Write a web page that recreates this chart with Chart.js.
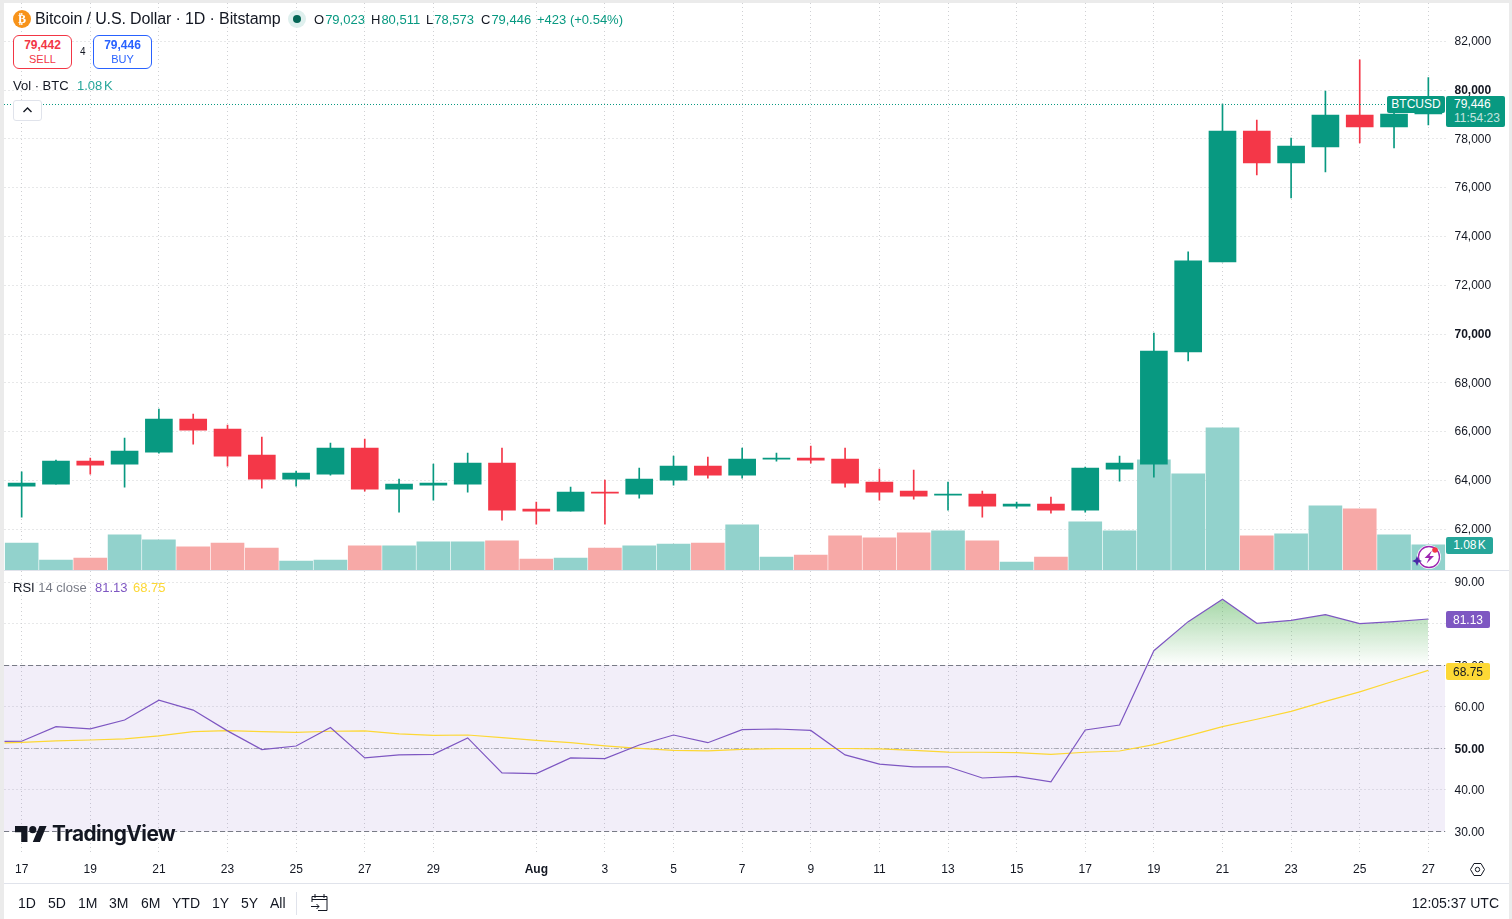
<!DOCTYPE html>
<html lang="en">
<head>
<meta charset="utf-8">
<title>BTCUSD</title>
<script src="https://cdn.jsdelivr.net/npm/chart.js@4"></script>
<style>
html,body{margin:0;padding:0;width:1512px;height:919px;overflow:hidden;background:#ebebeb;font-family:"Liberation Sans",Arial,sans-serif;color:#131722}
#panel{position:absolute;left:4px;top:3px;width:1505px;height:916px;background:#fff}
canvas{position:absolute;left:0}
#priceCanvas{top:0}
#rsiCanvas{top:571px}
.t{position:absolute;white-space:nowrap;line-height:1}
.tag{position:absolute;color:#fff;font-size:12px;text-align:center;box-sizing:border-box;border-radius:2px}
.hline{position:absolute;background:#e0e3eb;height:1px}
.btn{position:absolute;box-sizing:border-box;background:#fff;border-radius:6px;border:1px solid;text-align:center;width:59px;height:34px}
.btn b{display:block;font-size:12px;margin-top:3px;line-height:13px}
.btn span{display:block;font-size:11px;line-height:13px;margin-top:1px}
svg{position:absolute}
</style>
</head>
<body>
<div id="panel"></div>
<canvas id="priceCanvas" width="1512" height="570"></canvas>
<canvas id="rsiCanvas" width="1512" height="312"></canvas>

<div class="hline" style="left:4px;top:570px;width:1505px"></div>
<div class="hline" style="left:4px;top:883px;width:1505px"></div>

<svg style="left:13px;top:10px" width="18" height="18" viewBox="0 0 18 18"><circle cx="9" cy="9" r="9" fill="#f7931a"/><text x="9" y="13" font-size="12" font-weight="700" text-anchor="middle" fill="#fff" font-family="DejaVu Sans">₿</text></svg>
<div class="t" style="left:35px;top:11px;font-size:16px;letter-spacing:-.12px" id="title">Bitcoin / U.S. Dollar · 1D · Bitstamp</div>
<svg style="left:288px;top:10px" width="18" height="18" viewBox="0 0 18 18"><circle cx="9" cy="9" r="9" fill="#dff0ee"/><circle cx="9" cy="9" r="4" fill="#056656"/></svg>
<div class="t" style="left:314px;top:13px;font-size:13px">O<span style="color:#089981;margin-left:1px">79,023</span></div>
<div class="t" style="left:371px;top:13px;font-size:13px">H<span style="color:#089981;margin-left:1px">80,511</span></div>
<div class="t" style="left:426px;top:13px;font-size:13px">L<span style="color:#089981;margin-left:1px">78,573</span></div>
<div class="t" style="left:481px;top:13px;font-size:13px">C<span style="color:#089981;margin-left:1px">79,446</span></div>
<div class="t" style="left:537px;top:13px;font-size:13px;color:#089981">+423 (+0.54%)</div>

<div class="btn" style="left:13px;top:35px;border-color:#f23645;color:#f23645"><b>79,442</b><span>SELL</span></div>
<div class="t" style="left:80px;top:47px;font-size:10px">4</div>
<div class="btn" style="left:93px;top:35px;border-color:#2962ff;color:#2962ff"><b>79,446</b><span>BUY</span></div>

<div class="t" style="left:13px;top:79px;font-size:13px">Vol · BTC</div>
<div class="t" style="left:77px;top:79px;font-size:13px;color:#26a69a;word-spacing:-2px">1.08 K</div>
<div style="position:absolute;left:13px;top:100px;width:29px;height:21px;box-sizing:border-box;background:#fff;border:1px solid #e0e3eb;border-radius:3px"></div>
<svg style="left:22px;top:106px" width="11" height="8" viewBox="0 0 11 8"><path d="M1.5 6 L5.5 2 L9.5 6" fill="none" stroke="#131722" stroke-width="1.4"/></svg>

<div class="t" style="left:13px;top:581px;font-size:13px">RSI <span style="color:#787b86">14 close</span></div>
<div class="t" style="left:95px;top:581px;font-size:13px;color:#7e57c2">81.13</div>
<div class="t" style="left:133px;top:581px;font-size:13px;color:#fdd835">68.75</div>

<div class="tag" style="left:1387px;top:96px;width:58px;height:17px;line-height:17px;background:#089981">BTCUSD</div>
<div class="tag" style="left:1446px;top:96px;width:59px;height:31px;background:#089981;text-align:left;padding-left:8px;line-height:14px;padding-top:1px">79,446<br><span style="opacity:.75">11:54:23</span></div>
<div class="tag" style="left:1446px;top:537px;width:47px;height:17px;line-height:17px;background:#26a69a;word-spacing:-2px">1.08 K</div>
<div class="tag" style="left:1446px;top:611px;width:44px;height:17px;line-height:18px;background:#7e57c2">81.13</div>
<div class="tag" style="left:1446px;top:663px;width:44px;height:17px;line-height:18px;background:#fdd835;color:#131722">68.75</div>

<svg style="left:1412px;top:544px" width="30" height="26" viewBox="0 0 30 26"><circle cx="17" cy="13" r="12" fill="#fff"/><circle cx="17" cy="13" r="10.5" fill="#fff" stroke="#9c27b0" stroke-width="1.3"/><path d="M20 6.5 L12.5 14 L17 14 L14.5 19.5 L22 12 L17.5 12 Z" fill="#9c27b0"/><circle cx="23" cy="6" r="2.8" fill="#f23645"/><path d="M5 12 L6.5 15.5 L10 17 L6.5 18.5 L5 22 L3.5 18.5 L0 17 L3.5 15.5 Z" fill="#4a2aa8"/></svg>

<svg style="left:15px;top:826px" width="32" height="18" viewBox="0 0 36 20"><path d="M14 18H7V7H0V0h14v18zM28 18h-8L27.5 0h8L28 18z" fill="#131722"/><circle cx="20" cy="4" r="4" fill="#131722"/></svg>
<div class="t" style="left:52px;top:824px;font-family:Inter,sans-serif;font-size:20.8px;font-weight:700;letter-spacing:-.5px;color:#131722;text-shadow:0 0 2px #fff">TradingView</div>

<svg style="left:1469px;top:861px" width="17" height="17" viewBox="0 0 17 17"><path d="M5 2.5h7l3.5 6-3.5 6H5l-3.5-6z" fill="none" stroke="#131722" stroke-width="1"/><circle cx="8.5" cy="8.5" r="2.2" fill="none" stroke="#131722" stroke-width="1"/></svg>

<div class="t" style="left:18px;top:896px;font-size:14px">1D</div>
<div class="t" style="left:48px;top:896px;font-size:14px">5D</div>
<div class="t" style="left:78px;top:896px;font-size:14px">1M</div>
<div class="t" style="left:109px;top:896px;font-size:14px">3M</div>
<div class="t" style="left:141px;top:896px;font-size:14px">6M</div>
<div class="t" style="left:172px;top:896px;font-size:14px">YTD</div>
<div class="t" style="left:212px;top:896px;font-size:14px">1Y</div>
<div class="t" style="left:241px;top:896px;font-size:14px">5Y</div>
<div class="t" style="left:270px;top:896px;font-size:14px">All</div>
<div style="position:absolute;left:296px;top:892px;width:1px;height:23px;background:#e0e3eb"></div>
<svg style="left:310px;top:893px" width="20" height="19" viewBox="0 0 20 19"><path d="M2 9V3.5h15V17.5H8M5 1v4M14 1v4M2 6.5h15M1 13.5h8M6.5 11l2.5 2.5-2.5 2.5" fill="none" stroke="#131722" stroke-width="1"/></svg>
<div class="t" style="right:13px;top:896px;font-size:14px">12:05:37 UTC</div>

<script>
const categories = ["17","18","19","20","21","22","23","24","25","26","27","28","29","30","31","Aug","2","3","4","5","6","7","8","9","10","11","12","13","14","15","16","17","18","19","20","21","22","23","24","25","26","27"];
const shownTicks = ["17","19","21","23","25","27","29","Aug","3","5","7","9","11","13","15"];
const priceTickLabels = [62000,64000,66000,68000,70000,72000,74000,76000,78000,80000,82000];
const rsiTickLabels = [30,40,50,60,70,80,90];

const opens  = [63766,63848,64791,64668,65160,66513,66103,65037,64053,64258,65324,63643,63807,63848,64709,62823,62741,63520,63438,64012,64586,64217,64873,64914,64873,63930,63561,63397,63438,62946,63028,62782,64463,64668,69262,72955,78321,77009,77665,78977,78485,79023];
const highs  = [64353,64832,64914,65734,66923,66718,66267,65775,64381,65529,65693,64053,64668,65119,65324,63110,63725,64012,64504,64996,64955,65324,65119,65406,65324,64463,64422,63930,63561,63110,63315,64545,64996,70040,73365,79428,78772,78034,79961,81232,79300,80511];
const lows   = [62495,63848,64258,63725,65119,65488,64586,63684,63766,64217,63561,62700,63192,63520,62372,62208,62741,62208,63274,63807,64094,64094,64791,64709,63725,63192,63233,62782,62495,62864,62659,62700,63971,64135,68893,72955,76517,75574,76640,77829,77624,78573];
const closes = [63889,64791,64627,65201,66513,66062,64996,64053,64299,65324,63643,63848,63889,64709,62782,62741,63520,63479,64053,64586,64217,64873,64914,64832,63889,63520,63356,63438,62946,63028,62782,64504,64709,69302,72996,78321,77009,77706,78977,78485,79018,79446];
const volumes = [1166,432,518,1512,1296,994,1166,950,389,432,1037,1037,1210,1210,1253,475,518,950,1037,1123,1166,1944,562,648,1469,1382,1598,1685,1253,346,562,2074,1685,4752,4147,6134,1469,1555,2765,2635,1512,1080];
/* the RSI pane also shows the stub of one earlier day, off the left edge */
const rsiCategories = ["16", ...categories];
const rsiValues = [51.6,51.7,55.2,54.7,56.8,61.6,59.2,54.2,49.7,50.55,55.0,47.7,48.4,48.55,52.5,44.1,43.9,47.7,47.5,50.8,53.2,51.35,54.5,54.65,54.3,48.4,46.2,45.55,45.55,42.85,43.25,41.95,54.4,55.6,73.5,80.5,85.9,80.1,80.8,82.2,80.0,80.5,81.13];
const rsiMaValues = [51.2,51.45,51.8,52.0,52.25,53.0,54.0,54.25,54.0,53.85,54.1,54.2,53.45,53.1,53.2,52.55,51.9,51.35,50.6,50.0,49.5,49.4,49.75,49.9,49.9,49.95,49.85,49.5,49.1,49.05,48.95,48.55,49.05,49.35,50.9,53.0,55.2,57.0,58.9,61.3,63.6,66.2,68.75];
const lastPrice = 79446;
const rsiUpper = 70, rsiMiddle = 50, rsiLower = 30;

const UP = "#089981", DOWN = "#f43748", VOL_UP = "#92d2cc", VOL_DOWN = "#f7a9a7";
const GRID = "#cfd0d3", FONT = '"Liberation Sans", Arial, sans-serif', INK = "#131722";

Chart.defaults.font.family = FONT;
Chart.defaults.animation = false;

const isUp = i => closes[i] >= opens[i];
const candleColors = categories.map((_, i) => isUp(i) ? UP : DOWN);
const volumeColors = categories.map((_, i) => isUp(i) ? VOL_UP : VOL_DOWN);
const labelOf = c => c.chart.data.labels[c.tick.value];

function timeAxis(showLabels, firstIndex) {
  return {
    type: "category", offset: true, min: firstIndex,
    border: { display: false, dash: [1, 3] },
    grid: { offset: false, drawTicks: false, lineWidth: 1,
      color: c => shownTicks.includes(labelOf(c)) ? GRID : "rgba(0,0,0,0)" },
    ticks: { display: showLabels, autoSkip: false, maxRotation: 0, padding: 9, color: INK,
      font: c => ({ size: 12, family: FONT, weight: labelOf(c) === "Aug" ? "700" : "400" }),
      callback(v) { const l = this.getLabelForValue(v); return shownTicks.includes(l) ? l : ""; } },
    afterFit: s => { s.height = showLabels ? 30 : 0; s.paddingLeft = 0; s.paddingRight = 0; }
  };
}
function valueAxis(min, max, step, values, bold, fmt, nudge) {
  return {
    position: "right", min, max,
    border: { display: false, dash: [1, 3] },
    grid: { drawTicks: false, color: GRID },
    afterBuildTicks: s => { s.ticks = values.map(v => ({ value: v })); },
    ticks: { stepSize: step, padding: 9, color: INK, includeBounds: false, callback: fmt, labelOffset: nudge,
      font: c => ({ size: 12, family: FONT, weight: c.tick && bold.includes(c.tick.value) ? "700" : "400" }) },
    afterFit: s => { s.width = 66.5; s.paddingTop = 0; s.paddingBottom = 0; }
  };
}

const lastPriceLine = {
  id: "lastPriceLine",
  afterDatasetsDraw(chart) {
    const { ctx, chartArea: a, scales: { y } } = chart, py = Math.round(y.getPixelForValue(lastPrice)) + .5;
    ctx.save(); ctx.strokeStyle = UP; ctx.setLineDash([1, 2]); ctx.lineWidth = 1;
    ctx.beginPath(); ctx.moveTo(4, py); ctx.lineTo(a.right, py); ctx.stroke(); ctx.restore();
  }
};

new Chart(document.getElementById("priceCanvas"), {
  type: "bar",
  data: { labels: categories, datasets: [
    { label: "Volume", yAxisID: "v", data: volumes, backgroundColor: volumeColors, barThickness: 33, grouped: false, order: 3 },
    { label: "Range", yAxisID: "y", data: categories.map((_, i) => [lows[i], highs[i]]), backgroundColor: candleColors, barThickness: 1, grouped: false, order: 2 },
    { label: "Body", yAxisID: "y", data: categories.map((_, i) => [opens[i], closes[i]]), backgroundColor: candleColors, barThickness: 27, grouped: false, order: 1 }
  ]},
  options: {
    responsive: false, animation: false,
    layout: { padding: { left: 4.5, top: 3, right: 0, bottom: 0 } },
    plugins: { legend: { display: false }, tooltip: { enabled: false } },
    elements: { bar: { borderWidth: 0, borderSkipped: false } },
    scales: {
      x: timeAxis(false, 0),
      y: valueAxis(60328, 83566, 2000, priceTickLabels, [70000, 80000], v => v.toLocaleString("en-US"), 0.5),
      v: { display: false, min: 0, max: 24450 }
    }
  },
  plugins: [lastPriceLine]
});

const rsiCanvas = document.getElementById("rsiCanvas");
const greenFill = rsiCanvas.getContext("2d").createLinearGradient(0, 28, 0, 95);
greenFill.addColorStop(0, "rgba(76,175,80,0.5)");
greenFill.addColorStop(1, "rgba(76,175,80,0)");

const rsiBands = {
  id: "rsiBands",
  beforeDatasetsDraw(chart) {
    const { ctx, chartArea: a, scales: { y } } = chart;
    const top = y.getPixelForValue(rsiUpper), bot = y.getPixelForValue(rsiLower);
    ctx.save();
    ctx.fillStyle = "rgba(126,87,194,0.1)";
    ctx.fillRect(4, top, 1441, bot - top);
    [[rsiUpper, "#787b86", [5, 3]], [rsiLower, "#787b86", [5, 3]], [rsiMiddle, "rgba(120,123,134,.55)", [5, 2, 1, 2]]].forEach(([v, col, dash]) => {
      const py = Math.round(y.getPixelForValue(v)) + .5;
      ctx.strokeStyle = col; ctx.setLineDash(dash); ctx.lineWidth = 1;
      ctx.beginPath(); ctx.moveTo(4, py); ctx.lineTo(1445, py); ctx.stroke();
    });
    ctx.restore();
  }
};

new Chart(rsiCanvas, {
  type: "line",
  data: { labels: rsiCategories, datasets: [
    { label: "RSI", data: rsiValues, borderColor: "#7e57c2", borderWidth: 1.2, pointRadius: 0, tension: 0, order: 1,
      fill: { target: { value: rsiUpper }, above: greenFill, below: "rgba(0,0,0,0)" } },
    { label: "RSI MA", data: rsiMaValues, borderColor: "#fdd835", borderWidth: 1.2, pointRadius: 0, tension: 0, order: 2, fill: false }
  ]},
  options: {
    responsive: false, animation: false,
    layout: { padding: { left: 4.5, top: 0, right: 0, bottom: 0 } },
    plugins: { legend: { display: false }, tooltip: { enabled: false } },
    scales: {
      x: timeAxis(true, 1),
      y: valueAxis(24.79, 92.69, 10, rsiTickLabels, [50], v => Number(v).toFixed(2), 1)
    }
  },
  plugins: [rsiBands]
});
</script>
</body>
</html>
